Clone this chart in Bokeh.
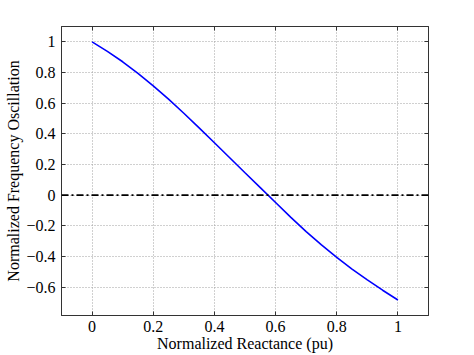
from bokeh.plotting import figure
from bokeh.models import LinearAxis, FixedTicker, CustomJSTickFormatter, Span, Range1d
from bokeh.embed import file_html
from bokeh.resources import INLINE

# Data
reactance = [0.0, 0.05, 0.1, 0.15, 0.2, 0.25, 0.3, 0.35, 0.4, 0.45, 0.5,
             0.55, 0.6, 0.65, 0.7, 0.75, 0.8, 0.85, 0.9, 0.95, 1.0]
freq_osc = [1.0, 0.938, 0.870, 0.794, 0.713, 0.626, 0.534, 0.439, 0.342, 0.244, 0.146,
            0.049, -0.048, -0.145, -0.238, -0.325, -0.406, -0.482, -0.553, -0.620, -0.684]
ref_level = 0.0
x_ticks = [0, 0.2, 0.4, 0.6, 0.8, 1.0]
y_ticks = [-0.6, -0.4, -0.2, 0, 0.2, 0.4, 0.6, 0.8, 1.0]

FONT = "Liberation Serif"
AX = "#333333"

p = figure(width=474, height=355, output_backend="svg", toolbar_location=None,
           x_range=Range1d(-0.1, 1.1), y_range=Range1d(-0.785, 1.1),
           min_border_left=61, min_border_right=46, min_border_top=26, min_border_bottom=40,
           x_axis_label="Normalized Reactance (pu)",
           y_axis_label="Normalized Frequency Oscillation")
p.background_fill_color = "white"
p.border_fill_color = "white"
p.outline_line_color = AX

fmt = CustomJSTickFormatter(code="""
var r = Math.round(tick*10)/10;
var a = Math.abs(r);
var s = a.toString();
if (r < -1e-9) { s = "\u2212" + s; }
return s;
""")

xt = FixedTicker(ticks=x_ticks, minor_ticks=[])
yt = FixedTicker(ticks=y_ticks, minor_ticks=[])

for ax in p.xaxis:
    ax.ticker = xt
for ax in p.yaxis:
    ax.ticker = yt

for ax in list(p.xaxis) + list(p.yaxis):
    ax.formatter = fmt
    ax.major_tick_in = 4
    ax.major_tick_out = 0
    ax.minor_tick_in = 0
    ax.minor_tick_out = 0
    ax.axis_line_color = AX
    ax.major_tick_line_color = AX
    ax.major_label_text_font = FONT
    ax.major_label_text_font_size = "16px"
    ax.major_label_text_color = "black"
    ax.axis_label_text_font = FONT
    ax.axis_label_text_font_size = "16px"
    ax.axis_label_text_font_style = "normal"
    ax.axis_label_text_color = "black"

p.xaxis.major_label_standoff = 5
p.xaxis.axis_label_standoff = 0
p.yaxis.major_label_standoff = 6
p.yaxis.axis_label_standoff = 1

# box ticks on top and right (labels hidden)
top = LinearAxis(ticker=xt, major_tick_in=4, major_tick_out=0, minor_tick_in=0, minor_tick_out=0,
                 major_label_text_font_size="0px", axis_line_color=AX, major_tick_line_color=AX,
                 major_label_standoff=0)
right = LinearAxis(ticker=yt, major_tick_in=4, major_tick_out=0, minor_tick_in=0, minor_tick_out=0,
                   major_label_text_font_size="0px", axis_line_color=AX, major_tick_line_color=AX,
                   major_label_standoff=0)
p.add_layout(top, "above")
p.add_layout(right, "right")

for g in (p.xgrid[0], p.ygrid[0]):
    g.grid_line_color = "#a0a0a0"
    g.grid_line_dash = "1 2"
    g.grid_line_width = 1
p.xgrid[0].ticker = xt
p.ygrid[0].ticker = yt

p.add_layout(Span(location=ref_level, dimension="width", line_color="black",
                  line_width=1.6, line_dash="7 3 2 3"))

p.line(reactance, freq_osc, line_color="#0000ff", line_width=1.6)

open("out.html", "w").write(file_html(p, INLINE))
